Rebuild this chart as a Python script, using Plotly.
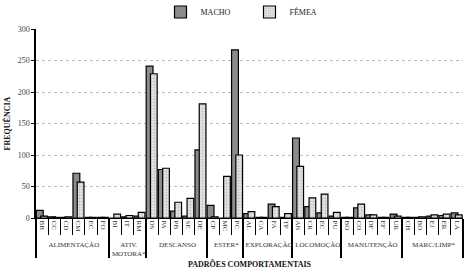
import plotly.graph_objects as go

groups = ["ALIMENTAÇÃO", "ATIV.<br>MOTORA*", "DESCANSO", "ESTER*", "EXPLORAÇÃO",
          "LOCOMOÇÃO", "MANUTENÇÃO", "MARC/LIMP*"]
# zero-width spaces keep repeated codes (EC, BO) as distinct categories
codes = [
    ["BB", "CC", "CD", "CM", "EC", "FO"],
    ["BI", "IT", "RM"],
    ["DS", "PA", "PB", "SE", "DE"],
    ["CP", "MC", "PC"],
    ["AL", "CA", "FA", "TP"],
    ["AN", "CR", "EC\u200b", "PU"],
    ["BO", "CO", "DF", "EF", "UR"],
    ["CH", "BO\u200b", "EJ", "ER", "LA"],
]
macho = [12, 2, 1, 71, 1, 1,
         0, 2, 3,
         241, 77, 11, 3, 108,
         20, 0, 267,
         7, 1, 22, 1,
         127, 18, 8, 3,
         1, 16, 5, 1, 6,
         1, 1, 3, 4, 8]
femea = [3, 1, 2, 57, 1, 1,
         6, 4, 9,
         229, 79, 25, 31, 181,
         2, 66, 100,
         10, 1, 18, 7,
         82, 32, 38, 9,
         1, 22, 5, 1, 3,
         1, 2, 5, 6, 5]

outer = [g for g, cs in zip(groups, codes) for _ in cs]
inner = [c for cs in codes for c in cs]

font = "Liberation Serif"
fig = go.Figure()
fig.add_trace(go.Bar(
    x=[outer, inner], y=macho, name="MACHO",
    offset=-0.47, width=0.56,
    marker=dict(color="#8c8c8c", line=dict(color="black", width=1.2)),
))
fig.add_trace(go.Bar(
    x=[outer, inner], y=femea, name="FÊMEA",
    offset=-0.12, width=0.55,
    marker=dict(color="#e4e4e4", line=dict(color="black", width=1.2),
                pattern=dict(shape=".", fgcolor="#9a9a9a", size=3, solidity=0.3)),
))

fig.update_layout(
    width=474, height=277,
    margin=dict(l=36, r=11, t=29, b=59, autoexpand=False),
    barmode="overlay",
    plot_bgcolor="white", paper_bgcolor="white",
    font=dict(family=font, size=8, color="#333"),
    showlegend=True,
    legend=dict(orientation="h", x=0.5, xanchor="center", y=1.09, yanchor="middle",
                font=dict(size=8, color="#222"), entrywidth=44, entrywidthmode="pixels",
                itemwidth=30, tracegroupgap=0, bgcolor="rgba(0,0,0,0)"),
    xaxis=dict(
        type="multicategory",
        tickangle=90,
        showline=True, linecolor="black", linewidth=1.2,
        ticks="outside", tickson="boundaries", ticklen=16, tickcolor="black", tickwidth=1,
        showdividers=True, dividercolor="black", dividerwidth=1.5,
        tickfont=dict(size=7, family=font, color="#333"),
        title=dict(text="<b>PADRÕES COMPORTAMENTAIS</b>", font=dict(size=8, family=font, color="#111"), standoff=4),
    ),
    yaxis=dict(
        range=[0, 300], dtick=50,
        showline=True, linecolor="black", linewidth=1.5,
        ticks="outside", ticklen=3, tickcolor="black",
        showgrid=True, gridcolor="#bdbdbd", griddash="dot", gridwidth=1,
        zeroline=False,
        tickfont=dict(size=8, family=font, color="#444"),
        title=dict(text="<b>FREQUÊNCIA</b>", font=dict(size=8, family=font, color="#111"), standoff=6),
    ),
)

fig.write_html("out.html")
